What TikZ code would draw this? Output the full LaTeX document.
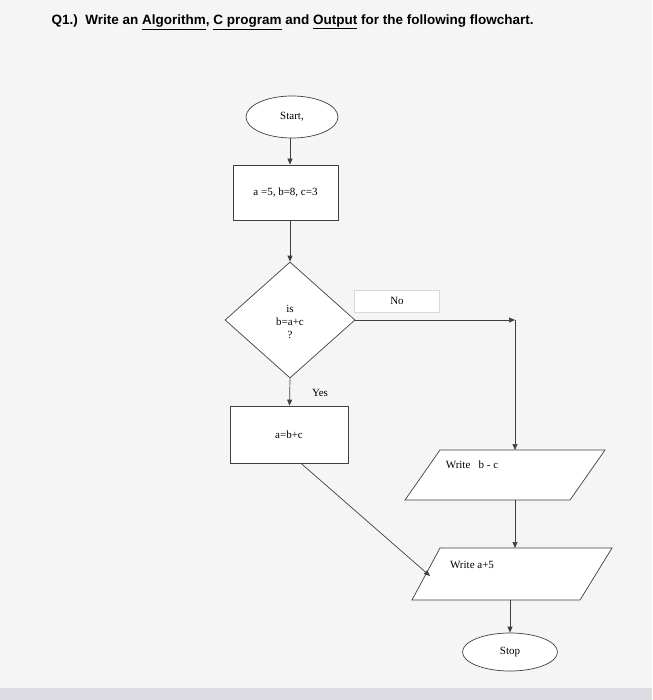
\documentclass[tikz,border=0pt]{standalone}
\usepackage{fontspec}
\setmainfont{Liberation Serif}
\newfontfamily\hd{Liberation Sans}
\usetikzlibrary{shapes.geometric,arrows.meta}
\begin{document}
\begin{tikzpicture}[x=1pt,y=-1pt,
  ln/.style={draw=black!75,line width=0.7pt},
  arr/.style={ln,-{Triangle[length=6pt,width=5pt]}},
  txt/.style={font=\fontsize{11}{13}\selectfont,align=center}]
\fill[gray!8] (0,0) rectangle (652,700);
\fill[blue!10!gray!25] (0,688) rectangle (652,700);
\useasboundingbox (0,0) rectangle (652,700);
\node[anchor=west,font=\hd\bfseries\fontsize{13.5}{15}\selectfont] (title) at (48,22)
 {Q1.)\ \ Write an \underline{Algorithm}, \underline{C program} and \underline{Output} for the following flowchart.};
\node[ellipse,ln,fill=white,minimum width=92pt,minimum height=42pt,txt] (start) at (292,117) {Start,};
\node[rectangle,ln,fill=white,minimum width=105pt,minimum height=55pt,txt] (init) at (285.5,192.5) {a =5, b=8, c=3};
\node[diamond,ln,fill=white,aspect=1.12,minimum width=130pt,minimum height=116pt,inner sep=0pt,txt] (dec) at (290,320) {};
\node[txt] (dect) at (290,322) {is\\b=a+c\\?};
\node[rectangle,ln,fill=white,minimum width=118pt,minimum height=57pt,txt] (asg) at (289,434.5) {a=b+c};
\node[rectangle,draw=gray!30,fill=white,minimum width=85pt,minimum height=22pt,txt] (no) at (397,301) {No};
\node[txt] (yes) at (320,393) {Yes};
\coordinate (w1a) at (440,450); \coordinate (w1b) at (605,450);
\coordinate (w1c) at (570,500); \coordinate (w1d) at (405,500);
\draw[ln,fill=white] (w1a)--(w1b)--(w1c)--(w1d)--cycle;
\node[txt] (w1) at (472,465) {Write\ \ \ b - c};
\coordinate (w2a) at (440,548); \coordinate (w2b) at (612,548);
\coordinate (w2c) at (580,600); \coordinate (w2d) at (412,600);
\draw[ln,fill=white] (w2a)--(w2b)--(w2c)--(w2d)--cycle;
\node[txt] (w2) at (472,565) {Write a+5};
\node[ellipse,ln,fill=white,minimum width=95pt,minimum height=38pt,txt] (stop) at (510,652) {Stop};
\coordinate (c1) at (290,138);
\coordinate (c2) at (290,220);
\coordinate (nr) at (515,320);
\coordinate (w1top) at (515,450);
\coordinate (w1bot) at (515,500);
\coordinate (w2top) at (515,548);
\coordinate (w2bot) at (510,600);
\coordinate (w2left) at (430,576);
\draw[arr] (c1) -- (c1 |- init.north);
\draw[arr] (c2) -- (dec.north);
\draw[arr] (dec.south) -- (asg);
\draw[arr] (dec.east) -- (nr);
\draw[arr] (nr) -- (w1top);
\draw[arr] (w1bot) -- (w2top);
\draw[arr] (asg.south) ++(12,0) coordinate (as) -- (w2left);
\draw[arr] (w2bot) -- (stop);
\end{tikzpicture}
\end{document}
